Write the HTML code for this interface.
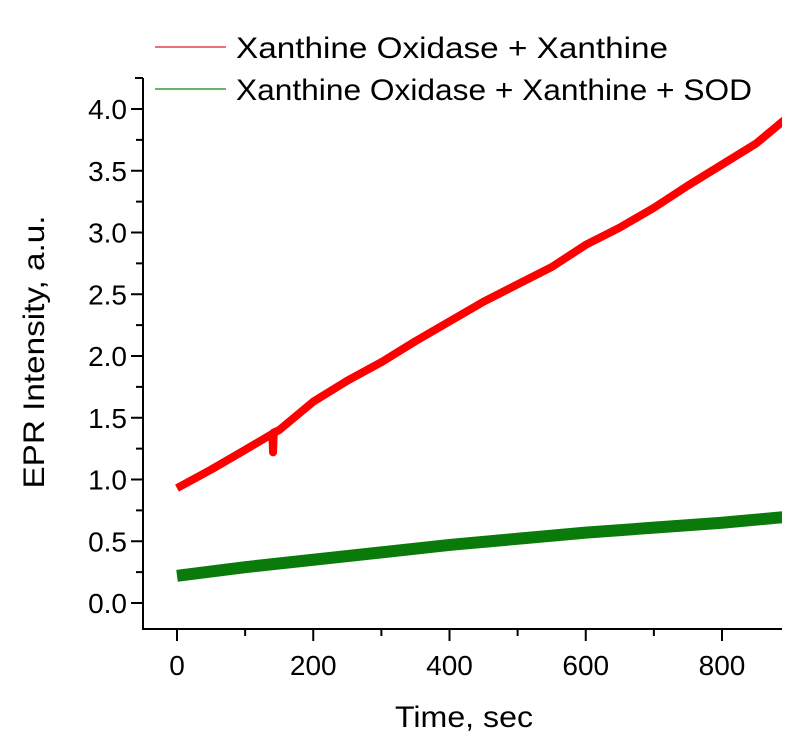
<!DOCTYPE html>
<html><head><meta charset="utf-8"><style>
body{margin:0;background:#fff;}
svg{display:block;font-family:"Liberation Sans",Arial,sans-serif;}
</style></head><body>
<svg id="chart" width="800" height="749"></svg>
<script>
const timePoints=[0,50,100,140,141,142,150,200,250,300,350,400,450,500,550,600,650,700,750,800,850,900];
const redValues=[0.93,1.08,1.24,1.37,1.22,1.38,1.40,1.63,1.80,1.95,2.12,2.28,2.44,2.58,2.72,2.90,3.04,3.20,3.38,3.55,3.72,3.95];
const greenTime=[0,100,200,300,400,500,600,700,800,900];
const greenValues=[0.22,0.29,0.35,0.41,0.47,0.52,0.57,0.61,0.65,0.70];
const xTicks=[0,200,400,600,800];
const yTicks=[0.0,0.5,1.0,1.5,2.0,2.5,3.0,3.5,4.0];
const yLabels=["0.0","0.5","1.0","1.5","2.0","2.5","3.0","3.5","4.0"];
const NS="http://www.w3.org/2000/svg";
const svg=document.getElementById('chart');
const X=v=>177+v*(545/800);
const Y=v=>603-v*123.5;
function mk(t,a,p){const e=document.createElementNS(NS,t);for(const k in a)e.setAttribute(k,a[k]);(p||svg).appendChild(e);return e;}
const defs=mk('defs',{});
const cp=mk('clipPath',{id:'plotclip'},defs);
mk('rect',{x:144,y:60,width:638,height:568},cp);
let ax=mk('line',{x1:143,y1:629,x2:782,y2:629,stroke:'#000','stroke-width':2});


let ay=mk('line',{x1:143,y1:78,x2:143,y2:630,stroke:'#000','stroke-width':2});


mk('line',{x1:135,y1:78,x2:143,y2:78,stroke:'#000','stroke-width':2});
for(let v=0;v<=800;v+=100){const major=v%200===0;
 const t=mk('line',{x1:X(v),x2:X(v),y1:629,y2:major?641:636,stroke:'#000','stroke-width':2});
 
 }
xTicks.forEach(v=>{const t=mk('text',{x:X(v),y:675,'text-anchor':'middle','font-size':28});t.textContent=v;
 
 });
for(let v=0;v<=4.01;v+=0.25){const major=Math.abs(v*2-Math.round(v*2))<0.01;
 const t=mk('line',{x1:major?131:136,x2:143,y1:Y(v),y2:Y(v),stroke:'#000','stroke-width':2});
 
 }
yTicks.forEach((v,i)=>{const t=mk('text',{x:127,y:Y(v)+10,'text-anchor':'end','font-size':28});t.textContent=yLabels[i];
 
 });
let xt=mk('text',{x:395,y:727,'font-size':30,textLength:138,lengthAdjust:'spacingAndGlyphs'});xt.textContent='Time, sec';


let yt=mk('text',{x:0,y:0,'text-anchor':'middle','font-size':30,textLength:273,lengthAdjust:'spacingAndGlyphs',transform:'translate(44,352) rotate(-90)'});yt.textContent='EPR Intensity, a.u.';


const sg=mk('g',{'clip-path':'url(#plotclip)'});
const gp=mk('polyline',{points:greenTime.map((t,i)=>X(t)+','+Y(greenValues[i])).join(' '),fill:'none',stroke:'#0a7a0a','stroke-width':12,'stroke-linejoin':'round'},sg);


const rp=mk('polyline',{points:timePoints.map((t,i)=>X(t)+','+Y(redValues[i])).join(' '),fill:'none',stroke:'#f00','stroke-width':8,'stroke-linejoin':'round'},sg);


const lg=mk('g',{});


[['#e0444a','Xanthine Oxidase + Xanthine',47,432],['#3a9a3a','Xanthine Oxidase + Xanthine + SOD',89,516]].forEach(([c,s,y,w])=>{
 const e=mk('g',{},lg);
 
 
 mk('line',{x1:155,x2:226,y1:y,y2:y,stroke:c,'stroke-width':1.5},e);
 const t=mk('text',{x:236,y:y+11,'font-size':30,textLength:w,lengthAdjust:'spacingAndGlyphs'},e);t.textContent=s;});
</script>
</body></html>
